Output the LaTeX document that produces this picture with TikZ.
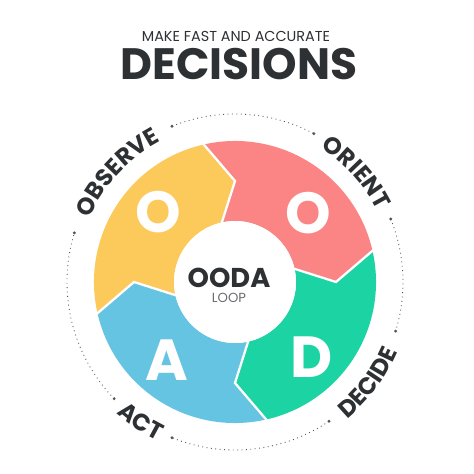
\documentclass[tikz,border=0pt]{standalone}
\usepackage{fontspec}
\setmainfont{Poppins}
\usetikzlibrary{decorations.text}
\definecolor{ylw}{HTML}{FCC95B}
\definecolor{pnk}{HTML}{FB8585}
\definecolor{grn}{HTML}{1CD3A3}
\definecolor{blu}{HTML}{66C4E3}
\definecolor{txt}{HTML}{2E3134}
\definecolor{dotc}{HTML}{555555}
\definecolor{loopc}{HTML}{6A6D70}
\newcommand\oodaseg[3]{%
  \fill[#1] ({#2+13}:141) arc[start angle={#2+13}, end angle={#3+13}, radius=141]
    -- (#3:101) -- ({#3+13}:61) arc[start angle={#3+13}, end angle={#2+13}, radius=61]
    -- (#2:101) -- cycle;}
\newcommand\lblfont{\fontsize{13.5}{13.5}\selectfont\bfseries}
\begin{document}
\begin{tikzpicture}[x=0.02cm,y=0.02cm,
  bigletter/.style={text=white, font=\fontsize{33}{33}\selectfont\bfseries, inner sep=0pt},
  sepline/.style={white, line width=1.3pt, line join=miter},
  dotarc/.style={dotc, dotted, line width=0.5pt},
  enddot/.style={dotc},
  toptext/.style={decorate, decoration={text along path, text align=center, text color=txt, text={|\lblfont|#1}}}
]
\useasboundingbox (-235,-192) rectangle (239,282);
\fill[white] (-235,-192) rectangle (239,282);

% ring segments
\oodaseg{ylw}{180}{90}
\oodaseg{pnk}{90}{0}
\oodaseg{grn}{0}{-90}
\oodaseg{blu}{270}{180}
\foreach \b in {90,0,-90,180}
  \draw[sepline] ({\b+13}:142) -- (\b:101) -- ({\b+13}:60);

% centre
\fill[white] (0,0) circle[radius=61];
\node[txt, font=\fontsize{15.5}{15.5}\selectfont\bfseries, inner sep=0pt] (ooda) at (-6,4) {OODA};
\node[loopc, font=\fontsize{7.5}{7.5}\selectfont, inner sep=0pt] (loop) at (-6,-16) {LOOP};

% segment letters
\node[bigletter] (lo1) at (-77,70) {O};
\node[bigletter] (lo2) at (73,69) {O};
\node[bigletter] (lda) at (-68,-78) {A};
\node[bigletter] (ldd) at (77,-75) {D};

% labels along circle
\path[toptext=OBSERVE] (177:159) arc[start angle=177, end angle=97, radius=159];
\path[toptext=ORIENT] (82:159) arc[start angle=82, end angle=2, radius=159];
\path[toptext=DECIDE] (-77:177) arc[start angle=-77, end angle=3, radius=177];
\path[toptext=ACT] (206:177) arc[start angle=206, end angle=266, radius=177];

% dotted arcs
\coordinate (a1) at (112:168); \coordinate (b1) at (62:168);
\coordinate (a2) at (22:168);  \coordinate (b2) at (-17:168);
\coordinate (a3) at (-56:168); \coordinate (b3) at (-112:168);
\coordinate (a4) at (224:168); \coordinate (b4) at (163:168);
\draw[dotarc] (a1) arc[start angle=112, end angle=62, radius=168];
\draw[dotarc] (a2) arc[start angle=22, end angle=-17, radius=168];
\draw[dotarc] (a3) arc[start angle=-56, end angle=-112, radius=168];
\draw[dotarc] (a4) arc[start angle=224, end angle=163, radius=168];
\foreach \p in {a1,b1,a2,b2,a3,b3,a4,b4}
  \fill[enddot] (\p) circle[radius=1.6];

% titles
\node[txt, font=\fontsize{8.2}{8.2}\selectfont, inner sep=0pt] (sub) at (1,246) {MAKE FAST AND ACCURATE};
\node[txt, font=\fontsize{25}{25}\selectfont\bfseries, inner sep=0pt] (title) at (4,218) {DECISIONS};
\end{tikzpicture}
\end{document}
